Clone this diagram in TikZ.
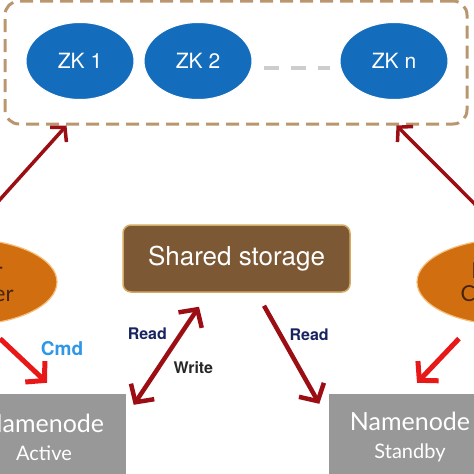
\documentclass[tikz,border=0pt]{standalone}
\usepackage{fontspec}
\setmainfont{TeX Gyre Heros}
\newfontfamily\gillfont{Lato}
\usepackage{tikz}
\usetikzlibrary{shapes.geometric}
\usetikzlibrary{arrows.meta}

\definecolor{zkblue}{RGB}{20,108,188}
\definecolor{groupbrown}{RGB}{185,150,110}
\definecolor{dotgray}{RGB}{205,205,205}
\definecolor{fcorange}{RGB}{208,110,16}
\definecolor{fcedge}{RGB}{246,190,120}
\definecolor{fctext}{RGB}{70,35,10}
\definecolor{storebrown}{RGB}{124,88,52}
\definecolor{storeedge}{RGB}{212,170,100}
\definecolor{nngray}{RGB}{152,152,152}
\definecolor{darkarrow}{RGB}{155,14,20}
\definecolor{cmdred}{RGB}{232,24,24}
\definecolor{readnavy}{RGB}{24,36,96}
\definecolor{cmdblue}{RGB}{48,150,232}

\tikzset{
  zk/.style={ellipse,fill=zkblue,draw=white,line width=1pt,minimum width=108pt,minimum height=77pt,inner sep=0pt,text=white,font=\fontsize{21}{24}\selectfont},
  fc/.style={ellipse,fill=fcorange,draw=fcedge,line width=1.2pt,minimum width=184pt,minimum height=86pt,inner sep=0pt,text=fctext,align=center,font=\gillfont\fontsize{22}{23}\selectfont},
  storage/.style={rectangle,rounded corners=8pt,fill=storebrown,draw=storeedge,line width=1.5pt,minimum width=227pt,minimum height=67pt,text=white,font=\fontsize{26}{30}\selectfont},
  namenode/.style={rectangle,fill=nngray,minimum width=163pt,minimum height=86pt,inner sep=0pt,text=white,align=center,font=\gillfont\fontsize{25}{28}\selectfont},
  barb/.style={-{Straight Barb[length=#1,width=2.2*#1]}},
  link/.style={darkarrow,line width=3.5pt,barb=10pt},
  data/.style={darkarrow,line width=4.5pt},
  cmd/.style={cmdred,line width=5pt,barb=13pt},
  lbl/.style={font=\bfseries\fontsize{16}{18}\selectfont}
}

\begin{document}
\begin{tikzpicture}[x=1pt,y=-1pt]
  % Constants
  \pgfmathsetmacro\zky{61}
  \pgfmathsetmacro\fcy{282}
  \pgfmathsetmacro\nny{437}
  % Boundary
  \path[use as bounding box] (0,0) rectangle (474,474);
  \clip (0,0) rectangle (474,474);
  % ZooKeeper group
  \node[draw=groupbrown,line width=3pt,dash pattern=on 13pt off 7pt,rounded corners=14pt,minimum width=462pt,minimum height=123pt] (zkgroup) at (236,62.5) {};
  \node[zk] (zk1) at (80,\zky) {ZK 1};
  \node[zk] (zk2) at (198,\zky) {ZK 2};
  \node[zk] (zkn) at (394,\zky) {ZK n};
  \draw[dotgray,line width=4pt,dash pattern=on 15pt off 12pt] ([xshift=11pt,yshift=-7pt]zk2.east) -- ([xshift=-10pt,yshift=-7pt]zkn.west);
  % Failover controllers
  \node[fc] (fcl) at (-35,\fcy) {Failover\\Controller};
  \node[fc] (fcr) at (509,\fcy) {Failover\\Controller};
  % Shared storage
  \node[storage] (sto) at (236.5,258.5) {Shared storage};
  % Namenodes
  \node[namenode] (act) at (44,\nny) {Namenode\\{\fontsize{20}{28}\selectfont Active}};
  \node[namenode] (sby) at (410,\nny) {Namenode\\{\fontsize{20}{28}\selectfont Standby}};
  % Links to ZooKeeper
  \draw[link] (fcl.north) -- ([xshift=63pt]zkgroup.south west);
  \draw[link] (fcr.north) -- ([xshift=-72pt]zkgroup.south east);
  % Commands
  \draw[cmd] ([xshift=35pt,yshift=-13pt]fcl.south) -- ([xshift=3pt,yshift=11pt]act.north) node [midway,xshift=38.5pt,yshift=12.5pt,lbl,text=cmdblue,font=\bfseries\fontsize{19}{21}\selectfont] {Cmd};
  \draw[cmd] ([xshift=-50pt,yshift=-13pt]fcr.south) -- ([xshift=7pt,yshift=11pt]sby.north);
  % Read and write
  \draw[data,{Straight Barb[length=13pt,width=28pt]}-{Straight Barb[length=13pt,width=28pt]}] ([xshift=8pt,yshift=-11pt]act.north east) -- ([xshift=-37.5pt,yshift=-14pt]sto.south) node [midway,xshift=-19pt,yshift=22.5pt,lbl,text=readnavy] {Read} node [midway,xshift=27pt,yshift=-11.5pt,lbl,text=black!85] {Write};
  \draw[data,barb=13pt] ([xshift=27.5pt,yshift=-13pt]sto.south) -- ([xshift=-9pt,yshift=-10pt]sby.north west) node [midway,xshift=17.5pt,yshift=20.5pt,lbl,text=readnavy] {Read};
\end{tikzpicture}
\end{document}
